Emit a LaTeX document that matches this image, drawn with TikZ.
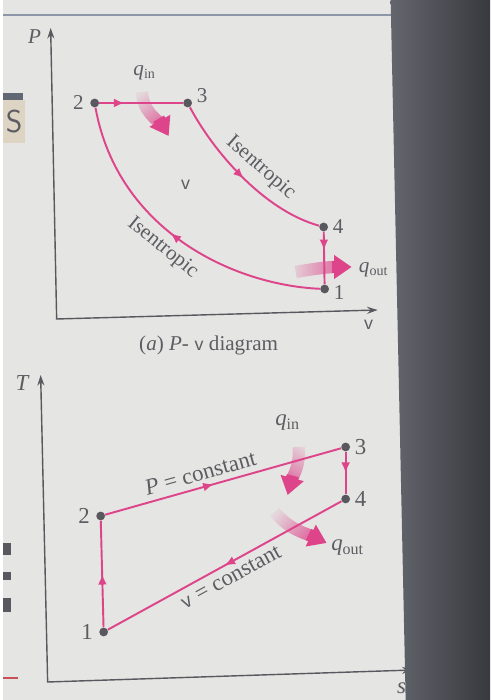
\documentclass[tikz,border=0pt]{standalone}
\usepackage{fontspec}
\setmainfont{Liberation Serif}
\usepackage{xcolor}
\usetikzlibrary{arrows.meta, calc, positioning, decorations.markings, fadings}

\definecolor{cycpink}{RGB}{221,68,138}
\definecolor{axgray}{RGB}{88,88,94}
\definecolor{txtgray}{RGB}{92,92,98}
\definecolor{pagegray}{RGB}{229,229,227}
\definecolor{rulegray}{RGB}{140,150,168}
\definecolor{bandlight}{RGB}{100,102,110}
\definecolor{banddark}{RGB}{56,57,62}
\definecolor{fragtan}{RGB}{222,212,196}
\definecolor{fragslate}{RGB}{96,104,116}
\definecolor{fragred}{RGB}{200,80,90}
\tikzfading[name=heatfade, left color=transparent!92, middle color=transparent!25, right color=transparent!0]

\begin{document}
\begin{tikzpicture}[x=0.02cm, y=0.02cm, >={Latex[length=6pt,width=5pt]},
	axis/.style={axgray, line width=0.8pt, <->, >={Stealth[length=6pt,width=4pt]}},
	cyc/.style={cycpink, line width=1.1pt},
	midarr/.style={postaction={decorate}, decoration={markings, mark=at position #1 with {\arrow{>}}}},
	pt/.style={circle, fill=axgray, inner sep=0pt, minimum size=5pt},
	lbl/.style={text=txtgray, font=\fontsize{12}{14}\selectfont},
	lblb/.style={text=txtgray, font=\fontsize{13}{15}\selectfont},
	heat/.style={cycpink, line width=7pt, shorten >=9pt, path fading=heatfade, fading angle=#1},
	heattip/.style={cycpink, line width=7pt, -{Triangle[length=10pt,width=13pt]}}]

	% page
	\fill[pagegray] (0,0) rectangle (488,700);
	\draw[rulegray, line width=1pt] (0,685) -- (388,685);
	\fill[fragslate] (0,600) rectangle (20,607);
	\fill[fragtan] (0,557) rectangle (22,600);
	\node[anchor=west, text=txtgray, font=\sffamily\fontsize{18}{20}\selectfont] (frag) at (-3,578) {S};
	\fill[axgray] (0,145) rectangle (8,157);
	\fill[axgray] (0,120) rectangle (8,128);
	\fill[axgray] (0,88) rectangle (8,102);
	\draw[fragred, line width=1pt] (0,22) -- (15,22);

	% (a) P-v diagram
	\coordinate (pv0) at (54,381);
	\coordinate (pvP) at (48,672);
	\coordinate (pvV) at (375,390);
	\draw[axis] (pvP) -- (pv0) -- (pvV);
	\node[lbl] (labP) at (32,663) {\textit{P}};
	\node[lbl] (labv) at (366,375) {\textsf{v}};

	\node[pt] (a1) at (322,411) {};
	\node[pt] (a2) at (92,597) {};
	\node[pt] (a3) at (185,597) {};
	\node[pt] (a4) at (321,473) {};
	\node[lbl, left=0pt of a2] {2};
	\node[lbl, right=-1pt of a3, yshift=4pt] {3};
	\node[lbl, right=-1pt of a4] {4};
	\node[lbl, right=-1pt of a1, yshift=-2pt] {1};

	\draw[cyc, midarr=0.3] (a2) -- (a3);
	\draw[cyc, midarr=0.5] (a3) .. controls (210,550) and (260,490) .. (a4);
	\draw[cyc, midarr=0.35] (a4) -- (a1);
	\draw[cyc, midarr=0.52] (a1) .. controls (230,415) and (115,470) .. (a2);

	\node[lbl, rotate=-41] (isA) at (258,532) {Isentropic};
	\node[lbl, rotate=-39] (isB) at (160,452) {Isentropic};
	\node[lbl] (vmid) at (183,515) {\textsf{v}};

	\node[lbl] (qinA) at (142,627) {\textit{q}\textsubscript{in}};
	\coordinate (ha0) at (139,608);
	\coordinate (ha1) at (166,564);
	\draw[heat=-60] (ha0) to[out=-85, in=125] (ha1);
	\draw[heattip] ([shift={(120:20)}]ha1) -- (ha1);
	\node[lbl] (qoutA) at (371,430) {\textit{q}\textsubscript{out}};
	\coordinate (hb0) at (293,428);
	\coordinate (hb1) at (349,433);
	\draw[heat=0] (hb0) to[out=10, in=180] (hb1);
	\draw[heattip] ([shift={(180:20)}]hb1) -- (hb1);

	\node[lbl] (capA) at (206,355) {(\textit{a}) \textit{P}- \textsf{v} diagram};

	% T-s diagram
	\coordinate (ts0) at (45,18);
	\coordinate (tsT) at (38,325);
	\coordinate (tsS) at (410,30);
	\draw[axis] (tsT) -- (ts0) -- (tsS);
	\node[lblb] (labT) at (20,317) {\textit{T}};
	\node[lblb] (labs) at (399,12) {\textit{s}};

	\node[pt] (b1) at (101,68) {};
	\node[pt] (b2) at (98,184) {};
	\node[pt] (b3) at (343,253) {};
	\node[pt] (b4) at (343,201) {};
	\node[lblb, left=0pt of b2] {2};
	\node[lblb, left=0pt of b1] {1};
	\node[lblb, right=-1pt of b3] {3};
	\node[lblb, right=-1pt of b4] {4};

	\draw[cyc, midarr=0.5] (b1) -- (b2);
	\draw[cyc, midarr=0.46] (b2) -- node[lblb, sloped, above, pos=0.42] {\textit{P} = constant} (b3);
	\draw[cyc, midarr=0.5] (b3) -- (b4);
	\draw[cyc, midarr=0.5] (b4) -- node[lblb, sloped, below, pos=0.5] {\textsf{v} = constant} (b1);

	\node[lblb] (qinB) at (285,277) {\textit{q}\textsubscript{in}};
	\coordinate (hc0) at (296,253);
	\coordinate (hc1) at (285,205);
	\draw[heat=-105] (hc0) to[out=-85, in=75] (hc1);
	\draw[heattip] ([shift={(75:20)}]hc1) -- (hc1);
	\node[lblb] (qoutB) at (345,152) {\textit{q}\textsubscript{out}};
	\coordinate (hd0) at (272,188);
	\coordinate (hd1) at (324,157);
	\draw[heat=-30] (hd0) to[out=-50, in=155] (hd1);
	\draw[heattip] ([shift={(155:20)}]hd1) -- (hd1);

	% screen edge
	\shade[left color=bandlight, right color=banddark] (388,700) -- (403,0) -- (488,0) -- (488,700) -- cycle;
\end{tikzpicture}
\end{document}
